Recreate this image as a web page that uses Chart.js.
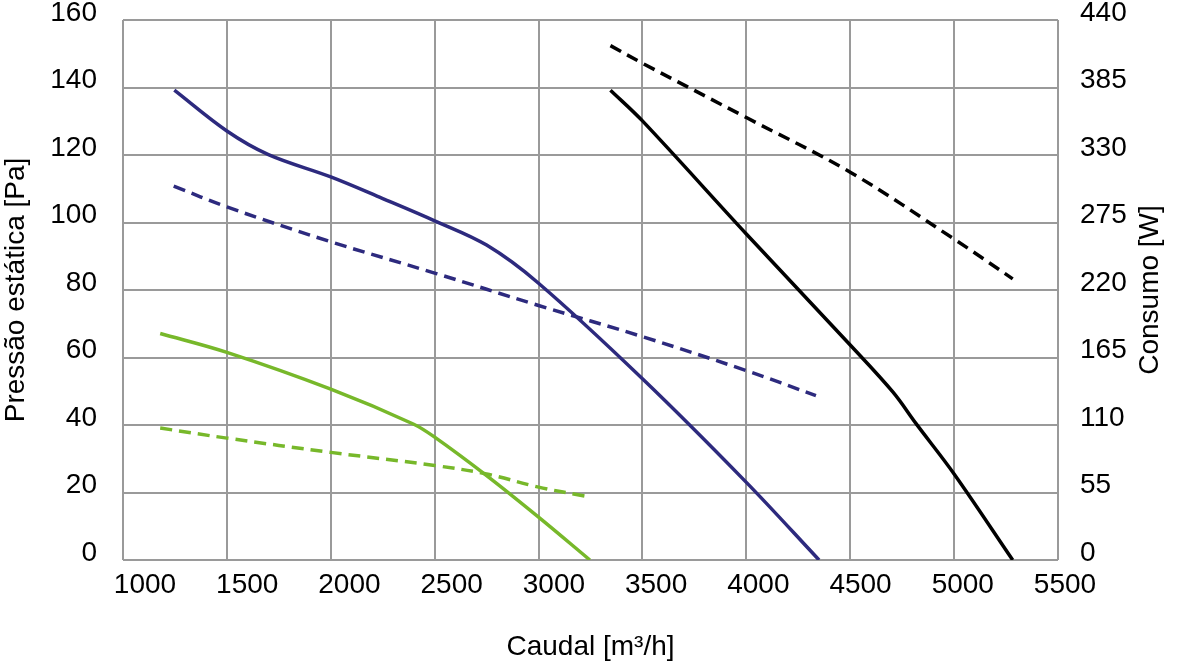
<!DOCTYPE html>
<html>
<head>
<meta charset="utf-8">
<script src="https://cdn.jsdelivr.net/npm/chart.js@4"></script>
<style>
	body { margin: 0; background: #fff; }
	#wrap { width: 1177px; height: 667px; }
</style>
</head>
<body>
<div id="wrap"><canvas id="fanChart"></canvas></div>
<script>
// ticks
const xTicks = [1000, 1500, 2000, 2500, 3000, 3500, 4000, 4500, 5000, 5500];
const pressureTicks = [0, 20, 40, 60, 80, 100, 120, 140, 160];
const powerTicks = [0, 55, 110, 165, 220, 275, 330, 385, 440];

// curva verde
const greenPressX = [1179, 1500, 2000, 2397, 2500, 2750, 3000, 3247];
const greenPressY = [67.1, 61.5, 50.6, 40.3, 36.4, 25, 12.7, 0];
const greenPowerX = [1179, 1500, 2000, 2500, 2750, 3000, 3223];
const greenPowerY = [107.5, 99.3, 87.7, 77, 70.1, 59.4, 52];

// curva azul
const bluePressX = [1247, 1500, 1700, 2000, 2250, 2500, 2750, 3000, 3500, 4000, 4350];
const bluePressY = [139.2, 127.1, 120.1, 113.5, 107.1, 100.5, 93.3, 82, 53.7, 23, 0];
const bluePowerX = [1244, 1500, 2000, 2500, 3000, 3500, 4000, 4335];
const bluePowerY = [304.7, 287.7, 259.3, 233.8, 207.4, 182, 154.3, 133.9];

// curva preta
const blackPressX = [3346, 3500, 4000, 4500, 4705, 4817, 5000, 5282];
const blackPressY = [139.2, 130.1, 96.6, 63.7, 49.8, 40.4, 25.5, 0];
const blackPowerX = [3346, 3500, 4000, 4500, 5000, 5282];
const blackPowerY = [419.1, 404.8, 360.5, 316, 261.5, 229.1];

const toPoints = (xs, ys) => xs.map((x, i) => ({ x: x, y: ys[i] }));

const font = { family: '"Liberation Sans", Arial, sans-serif', size: 28 };
const gridColor = '#9a9a9a';
const plain = (v) => String(v);

const makeLine = (label, xs, ys, color, axis, dashed) => ({
	label: label,
	data: toPoints(xs, ys),
	yAxisID: axis,
	borderColor: color,
	borderWidth: 3.5,
	borderDash: dashed ? [12, 7] : [],
	pointRadius: 0,
	fill: false,
	tension: 0.35,
});

const datasets = [
	makeLine('Pressão verde', greenPressX, greenPressY, '#77b82a', 'y', false),
	makeLine('Consumo verde', greenPowerX, greenPowerY, '#77b82a', 'y1', true),
	makeLine('Pressão azul', bluePressX, bluePressY, '#2d2a7e', 'y', false),
	makeLine('Consumo azul', bluePowerX, bluePowerY, '#2d2a7e', 'y1', true),
	makeLine('Pressão preta', blackPressX, blackPressY, '#000000', 'y', false),
	makeLine('Consumo preta', blackPowerX, blackPowerY, '#000000', 'y1', true),
];

const setTicks = (values) => (scale) => {
	scale.ticks = values.map((v) => ({ value: v }));
};

// largura fixa dos eixos verticais, sem folga extra em cima/baixo
const fixWidth = (w) => (s) => {
	s.width = w;
	s.paddingTop = 0;
	s.paddingBottom = 0;
};

// título do eixo direito, lido de baixo para cima como no original
const rightTitle = {
	id: 'rightTitle',
	afterDraw: (chart) => {
		const c = chart.ctx;
		const area = chart.chartArea;
		c.save();
		c.translate(1150, (area.top + area.bottom) / 2);
		c.rotate(-Math.PI / 2);
		c.font = font.size + 'px ' + font.family;
		c.fillStyle = '#000';
		c.textAlign = 'center';
		c.textBaseline = 'middle';
		c.fillText('Consumo [W]', 0, 0);
		c.restore();
	},
};

const config = {
	type: 'line',
	data: { datasets: datasets },
	options: {
		responsive: true,
		maintainAspectRatio: false,
		animation: false,
		layout: { padding: { top: 20, left: 0, right: 0, bottom: 0 } },
		plugins: { legend: { display: false }, tooltip: { enabled: false } },
		scales: {
			x: {
				type: 'linear',
				position: 'bottom',
				min: 1000,
				max: 5500,
				afterBuildTicks: setTicks(xTicks),
				ticks: { display: false },
				grid: { color: gridColor, lineWidth: 2, drawTicks: false },
				border: { display: false },
				afterFit: (s) => { s.height = 0; },
			},
			// eixo só para os rótulos (ligeiramente deslocados como no original)
			xl: {
				type: 'linear',
				position: 'bottom',
				min: 892.4,
				max: 5465.8,
				afterBuildTicks: setTicks(xTicks),
				ticks: { autoSkip: false, maxRotation: 0, padding: 8, font: font, color: '#000', callback: plain },
				grid: { display: false, drawTicks: false },
				border: { display: false },
				title: { display: true, text: 'Caudal [m³/h]', font: font, color: '#000', padding: { top: 0, bottom: 3 } },
				afterFit: (s) => { s.height = 107; },
			},
			y: {
				position: 'left',
				min: 0,
				max: 160,
				afterBuildTicks: setTicks(pressureTicks),
				ticks: { padding: 26, labelOffset: -7, font: font, color: '#000', callback: plain },
				grid: { color: gridColor, lineWidth: 2, drawTicks: false },
				border: { display: false },
				title: { display: true, text: 'Pressão estática [Pa]', font: font, color: '#000', padding: { top: -1, bottom: 0 } },
				afterFit: fixWidth(123),
			},
			y1: {
				position: 'right',
				min: 0,
				max: 440,
				afterBuildTicks: setTicks(powerTicks),
				ticks: { padding: 22, labelOffset: -7, font: font, color: '#000', callback: plain },
				grid: { display: false, drawTicks: false },
				border: { display: false },
				afterFit: fixWidth(119),
			},
		},
	},
	plugins: [rightTitle],
};

const ctx = document.getElementById('fanChart').getContext('2d');
const fanChart = new Chart(ctx, config);
</script>
</body>
</html>
